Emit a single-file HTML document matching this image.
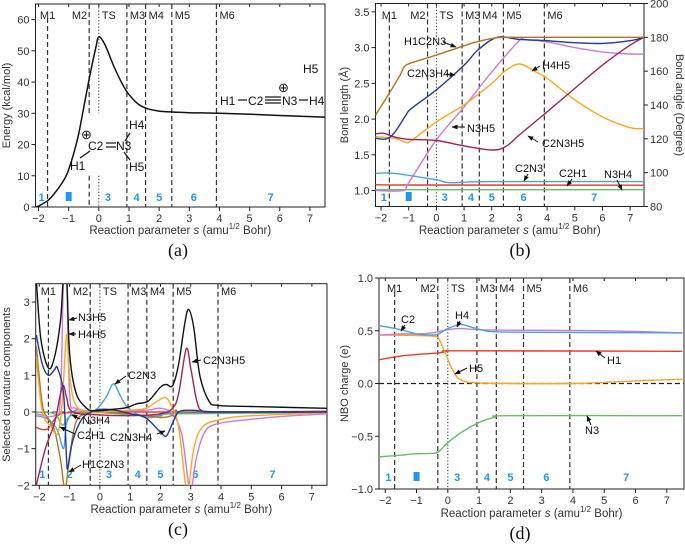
<!DOCTYPE html>
<html><head><meta charset="utf-8"><style>
html,body{margin:0;padding:0;background:#fff}
svg{display:block;font-family:"Liberation Sans",Arial,sans-serif}
</style></head><body>
<svg id="fig" width="685" height="544" viewBox="0 0 685 544" xmlns="http://www.w3.org/2000/svg">
<defs>
<marker id="arr" viewBox="0 0 10 10" refX="9" refY="5" markerWidth="6" markerHeight="6" orient="auto"><path d="M0,1 L10,5 L0,9 z" fill="#111"/></marker>
</defs>
</svg>
<script>
const xTicks=[-2,-1,0,1,2,3,4,5,6,7];
const markerS=[-1.7,-0.32,0,0.93,1.55,2.42,3.9];
const markerNames=['M1','M2','TS','M3','M4','M5','M6'];
const regionS=[-1.9,-1.0,0.3,1.25,2.0,3.15,5.7];
const regionLabels=['1','2','3','4','5','6','7'];
const aTicks=[0,10,20,30,40,50,60];
const aS=[-2.1,-2,-1.7,-1.5,-1.2,-1,-0.7,-0.5,-0.3,-0.1,0,0.2,0.5,0.8,1,1.3,1.6,2,2.5,3,4,5,6,7.5];
const aE=[0,0.3,2,4,8,12,22,32,42,51,54.5,52,45,39,36,33,31.5,30.7,30.4,30.2,30,29.7,29.3,28.8];
const bTicks=[1.0,1.5,2.0,2.5,3.0,3.5];
const bRTicks=[80,100,120,140,160,180,200];
const bH1C2N3_s=[-2.2,-1.7,-1.3,-1.1,-0.5,0,1,1.5,2.2,3,5,7.5];
const bH1C2N3_v=[134,147,158,163.5,167,169.5,175,177.5,179.8,180,180,180];
const bC2N3H4_s=[-2.2,-1.8,-1.5,-1.1,-0.9,0,1,1.5,2.2,3,4,5,6,7,7.5];
const bC2N3H4_v=[120.3,120,124,134,138,149,163.6,172.5,180,178.8,178,176.8,176.4,178,180];
const bC2N3H5_s=[-2.2,-1.9,-1.5,-1,0,1,2,2.5,3,4,5,6,7,7.5];
const bC2N3H5_v=[122.9,123.3,121,119.7,119,115.8,113.4,115.4,122.3,136,149.8,163.6,175.4,180];
const bH4H5_s=[-2.2,-1.5,-1.1,-0.9,0,1,2,2.5,3,3.5,4,5,6,7,7.5];
const bH4H5_v=[1.754,1.73,1.675,1.7,1.96,2.2,2.5,2.68,2.77,2.68,2.57,2.27,2.03,1.88,1.87];
const bN3H5_s=[-2.2,-1.2,-1.0,0,1,2,3,3.2,4,5,6,7,7.5];
const bN3H5_v=[1.0,1.0,1.11,1.71,2.17,2.66,3.1,3.11,3.08,3.0,2.94,2.91,2.91];
const bC2N3_s=[-2.2,-1.5,0,0.5,2,7.5];
const bC2N3_v=[1.242,1.24,1.15,1.11,1.126,1.126];
const bC2H1_s=[-2.2,-1,7.5];
const bC2H1_v=[1.085,1.078,1.075];
const bN3H4_s=[-2.2,7.5];
const bN3H4_v=[1.012,1.012];
const cTicks=[-2,-1,0,1,2,3];
const cBlack_s=[-2.1,-1.95,-1.7,-1.5,-1.3,-1.2,-1.1,-1.0,-0.8,-0.5,-0.2,0.5,0.9,1.2,1.6,2.0,2.2,2.4,2.6,2.8,2.93,3.1,3.3,3.6,3.9,5,7.5];
const cBlack_v=[3.6,2.0,1.2,1.5,2.5,3.7,3.7,1.6,0.55,0.15,0.03,0.08,0.12,0.22,0.3,0.68,0.75,0.72,1.3,2.4,2.8,2.3,1.0,0.3,0.18,0.15,0.1];
const cC2N3H4_s=[-2.1,-1.9,-1.7,-1.5,-1.4,-1.2,-1.1,-1.05,-0.9,-0.6,-0.3,0,0.5,1,1.5,2.0,2.2,2.4,2.6,3,4,7.5];
const cC2N3H4_v=[2.1,1.3,1.0,1.15,1.2,0.5,-1.3,-1.5,-0.8,-0.2,0,0.07,0.05,-0.05,-0.15,-0.55,-0.65,-0.3,0,0.05,0,0];
const cC2N3H5_s=[-2.1,-1.8,-1.5,-1.3,-1.2,-1.1,-0.9,0,1,2,2.4,2.6,2.85,3.0,3.2,3.4,4,7.5];
const cC2N3H5_v=[-2,-1.0,-0.3,0.5,0.72,0.4,0,-0.08,-0.1,-0.05,0.1,0.5,1.72,1.2,0.3,0.02,0,0.02];
const cH4H5_s=[-2.1,-1.9,-1.6,-1.4,-1.25,-1.1,-1.0,-0.8,-0.3,1,1.5,2.0,2.2,2.4,2.6,2.8,2.9,3.1,3.4,4,5,7.5];
const cH4H5_v=[1.5,0,-0.4,-0.6,0.2,2.1,1.0,0.2,0,0.05,0.1,0.35,0.38,0.1,-0.4,-1.8,-2.3,-1.0,-0.4,-0.2,-0.1,-0.02];
const cN3H5_s=[-2.1,-1.5,-1.3,-1.2,-1.1,-1.0,-0.8,0,1.5,2,2.4,2.7,2.9,3.0,3.2,3.5,4,5,6,7.5];
const cN3H5_v=[-0.05,-0.1,0.4,3.7,3.7,0.5,0.1,0.02,0.05,0.1,-0.05,-0.6,-1.8,-2.2,-1.2,-0.5,-0.3,-0.2,-0.12,-0.05];
const cH1C2N3_s=[-2.1,-1.9,-1.7,-1.5,-1.3,-1.15,-1.0,-0.8,-0.5,0,1,1.5,2,2.35,2.5,2.7,4,7.5];
const cH1C2N3_v=[1.8,0.2,-0.2,-0.5,-1.3,-2.1,-1.2,-0.3,-0.05,0,-0.05,-0.1,-0.15,-0.1,0.05,0,0,0];
const cC2N3_s=[-2.1,-1.7,-1.4,-1.2,-1.1,-0.8,-0.2,0.2,0.45,0.7,0.95,1.5,2,2.5,7.5];
const cC2N3_v=[-0.1,-0.2,-0.5,-1.0,-0.3,0.05,0.03,0.4,0.77,0.4,0.1,-0.15,-0.1,-0.03,0];
const cC2H1_s=[-2.1,-1.9,-1.7,-1.5,-1.3,-1,0,7.5];
const cC2H1_v=[-0.42,-0.48,-0.45,-0.2,-0.05,-0.02,0,0];
const cN3H4_s=[-2.1,-1.5,-1.3,-1.2,-1.1,-0.8,0,1,2,2.5,7.5];
const cN3H4_v=[0,-0.05,-0.3,-0.35,-0.2,-0.05,-0.02,-0.08,-0.1,-0.05,-0.02];
const dTicks=[-1.0,-0.5,0,0.5,1.0];
const dC2_s=[-2.2,-1.5,-1.0,-0.5,-0.3,0,0.4,0.8,1.2,1.6,3,7.5];
const dC2_v=[0.55,0.51,0.47,0.46,0.47,0.52,0.56,0.53,0.5,0.49,0.485,0.48];
const dH4_s=[-2.2,-1.5,-1.0,-0.5,0,0.4,1,2,5,7.5];
const dH4_v=[0.46,0.47,0.47,0.48,0.51,0.52,0.51,0.505,0.5,0.48];
const dH5_s=[-2.2,-1.0,-0.5,-0.3,-0.1,0.1,0.3,0.6,1,2,4,5,6,7.5];
const dH5_v=[0.46,0.455,0.45,0.43,0.3,0.16,0.06,0.015,0.005,0,0,0.01,0.025,0.04];
const dH1_s=[-2.2,-1.5,-1,-0.3,0,0.5,7.5];
const dH1_v=[0.225,0.26,0.275,0.29,0.305,0.31,0.305];
const dN3_s=[-2.2,-1.5,-1.0,-0.4,-0.2,0,0.5,1,1.5,2,7.5];
const dN3_v=[-0.695,-0.68,-0.665,-0.66,-0.62,-0.56,-0.45,-0.37,-0.32,-0.305,-0.305];

const C={brown:'#b0731f',navy:'#1d3aa0',maroon:'#a3215e',orange:'#ffa421',violet:'#c97bd6',lblue:'#4aa3d8',red:'#ec3a2c',green:'#62c062',black:'#111',region:'#2196f3'};

const NS='http://www.w3.org/2000/svg';
const svg=document.getElementById('fig');
function mk(tag,attrs,parent){const e=document.createElementNS(NS,tag);for(const k in attrs)e.setAttribute(k,attrs[k]);(parent||svg).appendChild(e);return e;}
function fmt(v,d){const s=v.toFixed(d);return v<0?'\u2212'+s.slice(1):s;}

function makePanel(id,L,R,T,B,smin,smax,vmin,vmax){
  const P={id,L,R,T,B,smin,smax,vmin,vmax};
  P.sx=s=>L+(s-smin)/(smax-smin)*(R-L);
  P.sy=v=>B-(v-vmin)/(vmax-vmin)*(B-T);
  P.g=mk('g',{});
  
  
  const cp=mk('clipPath',{id:'clip-'+id},P.g);
  
  
  mk('rect',{x:L,y:T,width:R-L,height:B-T},cp);
  return P;
}
function smooth(P,xs,ys,fy){
  const pts=xs.map((s,i)=>[P.sx(s),(fy||P.sy)(ys[i])]);
  let d='M'+pts[0][0].toFixed(1)+','+pts[0][1].toFixed(1);
  for(let i=0;i<pts.length-1;i++){
    const p0=pts[i-1]||pts[i],p1=pts[i],p2=pts[i+1],p3=pts[i+2]||p2;
    const c1=[p1[0]+(p2[0]-p0[0])/6,p1[1]+(p2[1]-p0[1])/6];
    const c2=[p2[0]-(p3[0]-p1[0])/6,p2[1]-(p3[1]-p1[1])/6];
    d+='C'+c1[0].toFixed(1)+','+c1[1].toFixed(1)+' '+c2[0].toFixed(1)+','+c2[1].toFixed(1)+' '+p2[0].toFixed(1)+','+p2[1].toFixed(1);
  }
  return d;
}
function series(P,name,xs,ys,color,fy,w){
  const p=mk('path',{d:smooth(P,xs,ys,fy),fill:'none',stroke:color,'stroke-width':w||1.4,'clip-path':'url(#clip-'+P.id+')'},P.g);
  
  
}
function axes(P,yt,dec,xlabelY,ylabel,ylabelX){
  const fr=mk('rect',{x:P.L,y:P.T,width:P.R-P.L,height:P.B-P.T,fill:'none',stroke:'#222','stroke-width':1},P.g);
  
  
  for(const t of xTicks){
    const x=P.sx(t);
    const tk=mk('line',{x1:x,x2:x,y1:P.B,y2:P.B+4,stroke:'#222'},P.g);
    
    
    const tt=mk('line',{x1:x,x2:x,y1:P.T,y2:P.T+3,stroke:'#222'},P.g);
    
    
    const tl=mk('text',{x:x,y:P.B+15,'font-size':11,'text-anchor':'middle',fill:'#333'},P.g);
    tl.textContent=fmt(t,0);
    
    
  }
  for(const t of yt){
    const y=P.sy(t);
    const tk=mk('line',{x1:P.L-4,x2:P.L,y1:y,y2:y,stroke:'#222'},P.g);
    
    
    const tl=mk('text',{x:P.L-6,y:y+4,'font-size':11,'text-anchor':'end',fill:'#333'},P.g);
    tl.textContent=fmt(t,dec);
    
    
  }
  const xl=mk('text',{x:(P.L+P.R)/2,y:xlabelY,'font-size':11.5,'text-anchor':'middle',fill:'#333'},P.g);
  xl.innerHTML='Reaction parameter <tspan font-style="italic">s</tspan> (amu<tspan font-size="8" dy="-5">1/2</tspan><tspan dy="5"> Bohr)</tspan>';
  
  
  const yc=(P.T+P.B)/2;
  const yl=mk('text',{x:ylabelX,y:yc,'font-size':11,'text-anchor':'middle',fill:'#333',transform:'rotate(-90 '+ylabelX+' '+yc+')'},P.g);
  yl.textContent=ylabel;
  
  
}
function markers(P,labelY,regionY,gaps,blockRegion2){
  markerS.forEach((s,i)=>{
    const x=P.sx(s);
    const dots=markerNames[i]==='TS';
    const segs=gaps&&gaps[i]?gaps[i]:[[P.T+(i===0?14:0),P.B]];
    for(const sg of segs){
      const l=mk('line',{x1:x,x2:x,y1:sg[0],y2:sg[1],stroke:'#333','stroke-width':dots?1:1.2,'stroke-dasharray':dots?'1.2,2':'5,3'},P.g);
      
      
    }
    const anchor=i===0?'middle':(i===1?'end':'start');
    const dx=i===0?0:(i===1?-2:3);
    const t=mk('text',{x:x+dx,y:labelY,'font-size':11,'text-anchor':anchor,fill:'#222'},P.g);
    t.textContent=markerNames[i];
    
    
  });
  regionS.forEach((s,i)=>{
    const x=P.sx(s);
    if(i===1&&blockRegion2){
      const r=mk('rect',{x:x-3,y:regionY-9,width:6,height:9,fill:C.region},P.g);
      
      
    } else {
      const t=mk('text',{x:x,y:regionY,'font-size':11,'font-weight':'bold','text-anchor':'middle',fill:C.region},P.g);
      t.textContent=regionLabels[i];
      
      
    }
  });
}
function note(P,name,txt,tx,ty,ax1,ay1,ax2,ay2){
  const t=mk('text',{x:tx,y:ty,'font-size':11,fill:'#111'},P.g);
  t.textContent=txt;
  
  
  if(ax1!==undefined){
    const l=mk('line',{x1:ax1,y1:ay1,x2:ax2,y2:ay2,stroke:'#111','stroke-width':1,'marker-end':'url(#arr)'},P.g);
    
    
  }
}
function caption(txt,x,y){
  const t=mk('text',{x:x,y:y,'font-size':18,'text-anchor':'middle','font-family':'"Liberation Serif",serif',fill:'#111'});
  t.textContent=txt;
  
  
}

const A=makePanel('a',35.5,325,4,207,-2.1,7.5,0,65);
axes(A,aTicks,0,234,'Energy (kcal/mol)',10);
markers(A,19,201,{1:[[A.T,A.sy(30)],[A.sy(10),A.B]],2:[[A.T,A.sy(30)],[A.sy(10),A.B]]},true);
series(A,'energy',aS,aE,C.black,null,1.5);
function mtxt(t,x,y,name,fs){const e=mk('text',{x:x,y:y,'font-size':fs||12,fill:'#111'},A.g);e.textContent=t;return e;}
function mline(x1,y1,x2,y2,name){const e=mk('line',{x1,y1,x2,y2,stroke:'#111','stroke-width':1.2},A.g);}
mtxt('H5',303,73,'h5-top');
mtxt('\u2295',278,92,'charge-top',13);
mtxt('H1',220,105,'h1-top');mline(238,100,247,100,'h1-c2');
mtxt('C2',248,105,'c2-top');
mline(265,97,281,97,'c2n3-1');mline(265,100,281,100,'c2n3-2');mline(265,103,281,103,'c2n3-3');
mtxt('N3',282,105,'n3-top');mline(299,100,308,100,'n3-h4');
mtxt('H4',309,105,'h4-top');
mtxt('\u2295',81,139,'charge-bottom',13);
mtxt('C2',88,150,'c2-bottom');
mline(106,143,116,143,'c2n3-a');mline(106,147,116,147,'c2n3-b');
mtxt('N3',116,150,'n3-bottom');
mtxt('H4',129,129,'h4-bottom');mline(130,133,125,141,'n3-h4-b');
mtxt('H1',70,170,'h1-bottom');mline(80,158,90,151,'h1-c2-b');
mtxt('H5',129,171,'h5-bottom');mline(124,152,130,160,'n3-h5-b');
caption('(a)',178,256);

const B=makePanel('b',375.5,644,3.5,206.5,-2.2,7.5,0.777,3.617);
const bAng=d=>B.sy(0.777+(d-80)/120*(3.617-0.777));
axes(B,bTicks,1,234,'Bond length (\u00c5)',348);
bRTicks.forEach(t=>{
  const y=bAng(t);
  const tk=mk('line',{x1:B.R,x2:B.R+4,y1:y,y2:y,stroke:'#222'},B.g);
  
  
  const tl=mk('text',{x:B.R+6,y:y+4,'font-size':11,fill:'#333'},B.g);
  tl.textContent=String(t);
  
  
});
{const yc=(B.T+B.B)/2;const t=mk('text',{x:676,y:yc,'font-size':11,'text-anchor':'middle',fill:'#333',transform:'rotate(90 676 '+yc+')'},B.g);t.textContent='Bond angle (Degree)';}
markers(B,19,201,null,true);
series(B,'N3H4',bN3H4_s,bN3H4_v,C.green);
series(B,'C2H1',bC2H1_s,bC2H1_v,C.red);
series(B,'C2N3',bC2N3_s,bC2N3_v,C.lblue);
series(B,'N3H5',bN3H5_s,bN3H5_v,C.violet);
series(B,'H4H5',bH4H5_s,bH4H5_v,C.orange);
series(B,'C2N3H5',bC2N3H5_s,bC2N3H5_v,C.maroon,bAng);
series(B,'C2N3H4',bC2N3H4_s,bC2N3H4_v,C.navy,bAng);
series(B,'H1C2N3',bH1C2N3_s,bH1C2N3_v,C.brown,bAng);
note(B,'H1C2N3','H1C2N3',404,45,443,42,456,47);
note(B,'C2N3H4','C2N3H4',407,77,446,74,455,75);
note(B,'N3H5','N3H5',467,132,465,127,452,127);
note(B,'H4H5','H4H5',542,69,540,66,532,71);
note(B,'C2N3H5','C2N3H5',542,147,538,142,528,136);
note(B,'C2N3','C2N3',515,172,528,174,524,181);
note(B,'C2H1','C2H1',559,177,572,179,567,186);
note(B,'N3H4','N3H4',604,178,617,180,622,190);
caption('(b)',520,256);

const Cp=makePanel('c',35.7,327,283.7,485.3,-2.12,7.5,-2,3.5);
axes(Cp,cTicks,0,513,'Selected curvature components',10);
{const z=mk('line',{x1:Cp.L,x2:Cp.R,y1:Cp.sy(0),y2:Cp.sy(0),stroke:'#333','stroke-dasharray':'5,3'},Cp.g);}
markers(Cp,295,478,null,false);
series(Cp,'C2H1',cC2H1_s,cC2H1_v,C.red);
series(Cp,'N3H4',cN3H4_s,cN3H4_v,C.green);
series(Cp,'C2N3',cC2N3_s,cC2N3_v,C.lblue);
series(Cp,'H1C2N3',cH1C2N3_s,cH1C2N3_v,C.brown);
series(Cp,'N3H5',cN3H5_s,cN3H5_v,C.violet);
series(Cp,'H4H5',cH4H5_s,cH4H5_v,C.orange);
series(Cp,'C2N3H5',cC2N3H5_s,cC2N3H5_v,C.maroon);
series(Cp,'C2N3H4',cC2N3H4_s,cC2N3H4_v,C.navy);
series(Cp,'total',cBlack_s,cBlack_v,C.black);
note(Cp,'N3H5','N3H5',78,321,77,318,69,320);
note(Cp,'H4H5','H4H5',78,338,76,334,69,334);
note(Cp,'C2N3H5','C2N3H5',203,364,201,360,192,362);
note(Cp,'C2N3','C2N3',128,379,126,376,115,384);
note(Cp,'N3H4','N3H4',82,424,80,419,72,415);
note(Cp,'C2H1','C2H1',77,439,75,434,60,427);
note(Cp,'C2N3H4','C2N3H4',110,441,157,434,165,431);
note(Cp,'H1C2N3','H1C2N3',82,468,81,465,69,472);
caption('(c)',178,535);

const D=makePanel('d',379,684,278,489,-2.2,7.55,-1,1);
axes(D,dTicks,1,517,'NBO charge (e)',348);
{const z=mk('line',{x1:D.L,x2:D.R,y1:D.sy(0),y2:D.sy(0),stroke:'#222','stroke-dasharray':'5,3','stroke-width':1.2},D.g);}
markers(D,292,481,null,true);
series(D,'N3',dN3_s,dN3_v,C.green);
series(D,'H1',dH1_s,dH1_v,C.red);
series(D,'H5',dH5_s,dH5_v,C.orange);
series(D,'H4',dH4_s,dH4_v,C.violet);
series(D,'C2',dC2_s,dC2_v,C.lblue);
note(D,'C2','C2',401,323,405,325,401,331);
note(D,'H4','H4',455,319,460,321,457,327);
note(D,'H1','H1',607,364,605,358,596,351);
note(D,'H5','H5',469,372,467,368,455,374);
note(D,'N3','N3',585,434,591,425,587,416);
caption('(d)',520,539);
</script>
</body></html>
